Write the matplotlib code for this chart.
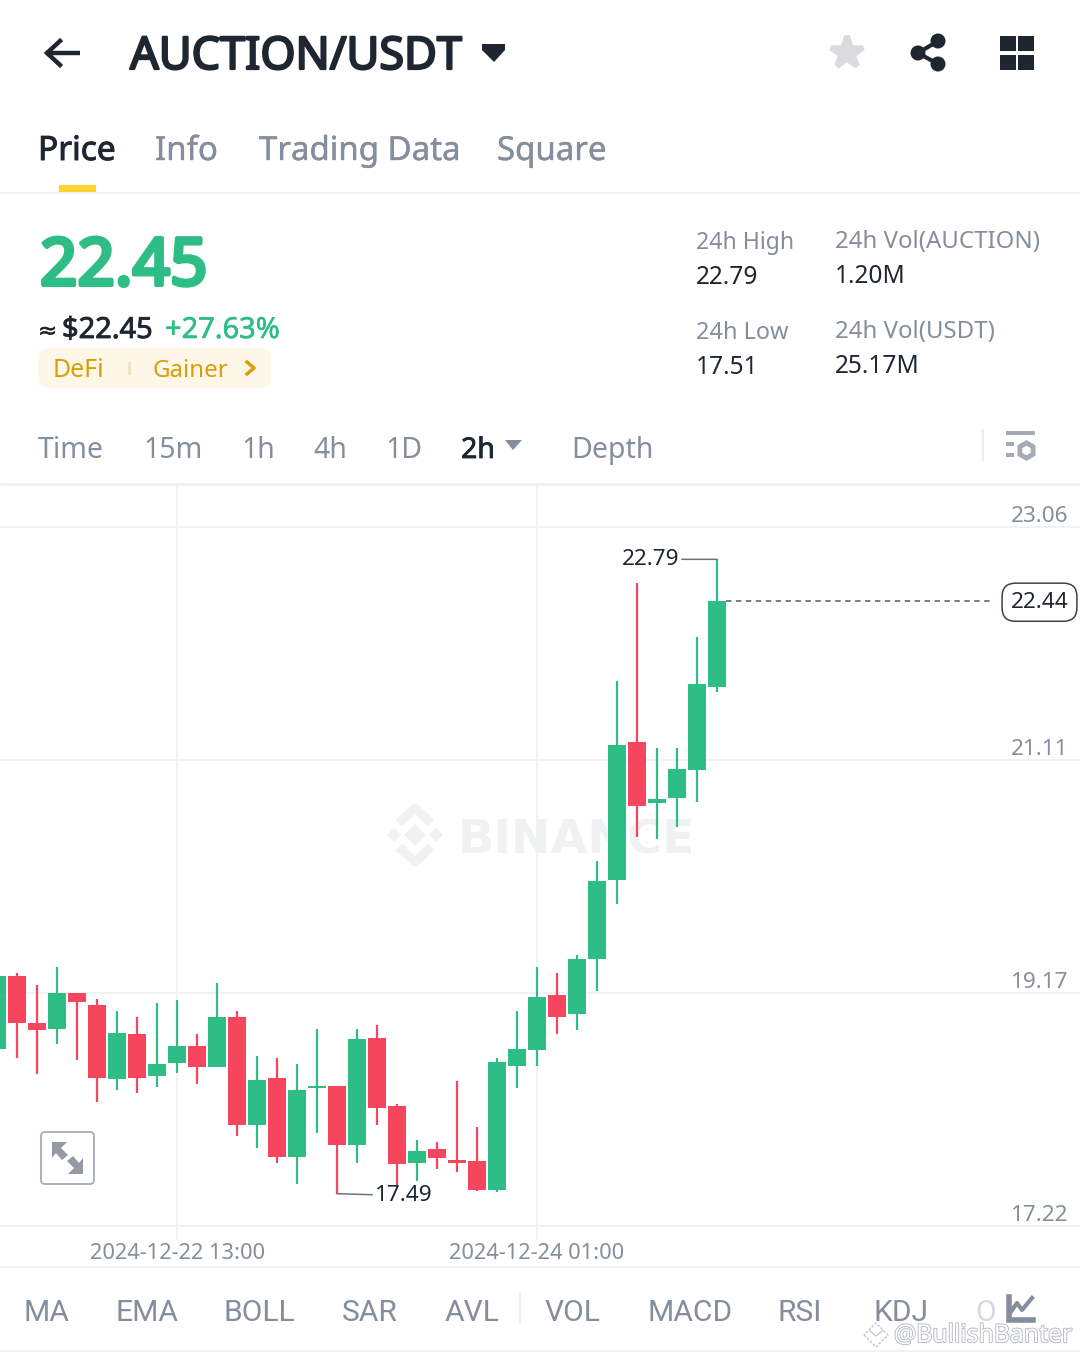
import matplotlib
matplotlib.use('Agg')
import matplotlib.pyplot as plt
import matplotlib.patheffects as pe
from matplotlib.patches import FancyBboxPatch, Rectangle, Circle, Polygon

plt.rcParams['font.family'] = ['Noto Sans', 'DejaVu Sans']

# ---- candle data ----
opens = [18.70, 19.31, 18.92, 18.87, 19.17, 19.07, 18.45, 18.82, 18.47, 18.58,
         18.72, 18.55, 18.97, 18.06, 18.46, 17.80, 18.37, 18.39, 17.90, 18.79,
         18.22, 17.75, 17.86, 17.77, 17.76, 17.52, 18.56, 18.69, 19.15, 18.99,
         19.45, 20.11, 21.26, 20.75, 20.80, 21.03, 21.72]
highs = [19.31, 19.33, 19.23, 19.38, 19.17, 19.12, 19.02, 18.97, 19.08, 19.11,
         18.82, 19.25, 19.02, 18.64, 18.62, 18.57, 18.87, 18.39, 18.87, 18.90,
         18.24, 17.94, 17.92, 18.43, 18.05, 18.62, 19.02, 19.38, 19.33, 19.48,
         20.27, 21.77, 22.59, 21.21, 21.21, 22.14, 22.79]
lows = [18.70, 18.62, 18.49, 18.74, 18.61, 18.26, 18.36, 18.33, 18.38, 18.50,
        18.41, 18.55, 17.97, 17.87, 17.75, 17.57, 18.00, 17.49, 17.75, 18.06,
        17.55, 17.60, 17.70, 17.67, 17.51, 17.50, 18.37, 18.56, 18.82, 18.86,
        19.18, 19.91, 20.47, 20.45, 20.55, 20.76, 21.68]
closes = [19.31, 18.92, 18.86, 19.17, 19.09, 18.46, 18.83, 18.46, 18.57, 18.72,
          18.55, 18.97, 18.06, 18.44, 17.80, 18.36, 18.39, 17.90, 18.78, 18.21,
          17.74, 17.85, 17.79, 17.75, 17.52, 18.59, 18.70, 19.13, 18.97, 19.45,
          20.10, 21.24, 20.73, 20.79, 21.04, 21.75, 22.44]

price_ticks = [23.06, 21.11, 19.17, 17.22]
time_tick_idx = [9, 27]
time_labels = ['2024-12-22 13:00', '2024-12-24 01:00']
last_price = 22.44
high_label = 22.79
low_label = 17.49

top_tabs = [('Price', 38), ('Info', 155), ('Trading Data', 259), ('Square', 497)]
time_tabs = [('Time', 38), ('15m', 143), ('1h', 241), ('4h', 313), ('1D', 385), ('Depth', 571)]
indicators = [('MA', 24), ('EMA', 115), ('BOLL', 223), ('SAR', 342), ('AVL', 445),
              ('VOL', 545), ('MACD', 648), ('RSI', 777), ('KDJ', 874)]

GREEN = '#2EBD85'
RED = '#F6465D'
DARK = '#1E2632'
GRAY = '#848E9C'
LINE = '#F1F2F3'

W, H = 1080, 1356
fig = plt.figure(figsize=(W / 100, H / 100), dpi=100, facecolor='white')

# pixel-coordinate layer for the app chrome
bg = fig.add_axes([0, 0, 1, 1], zorder=0)
bg.set_xlim(0, W)
bg.set_ylim(H, 0)
bg.axis('off')


def put(x, y, s, size, color=DARK, heavy=0, ha='left', family=None, **kw):
    # Noto Sans comes in one weight here, so heavier text gets a stroke of its own colour
    if family is not None:
        kw['family'] = family
    if heavy:
        kw['path_effects'] = [pe.withStroke(linewidth=heavy, foreground=color)]
    return bg.text(x, y, s, fontsize=size * 0.72, color=color, ha=ha, va='baseline', **kw)


def hline(y, x0=0, x1=W, lw=2, color=LINE):
    bg.plot([x0, x1], [y, y], color=color, lw=lw * 0.72, solid_capstyle='butt')


# header
bg.plot([46, 80], [53, 53], color=DARK, lw=3.2, solid_capstyle='butt')
bg.plot([60, 47, 60], [41, 53, 65], color=DARK, lw=3.2, solid_joinstyle='miter')
put(130, 69, 'AUCTION/USDT', 45, heavy=1.6)
bg.add_patch(Polygon([[482, 44], [505, 44], [505, 50], [494, 62], [482, 50]], color=DARK, lw=0))
bg.plot([847], [53], marker='*', ms=24, color='#D8DBE0', mec='#D8DBE0', mew=4, mfc='#D8DBE0')
share = [(938, 41), (918, 53), (938, 64)]
bg.plot([p[0] for p in share], [p[1] for p in share], color=DARK, lw=3)
for cx, cy in share:
    bg.add_patch(Circle((cx, cy), 7.5, color=DARK, lw=0))
for x0, y0 in [(1000, 36), (1018, 36), (1000, 55), (1018, 55)]:
    bg.add_patch(Rectangle((x0, y0), 15.5, 14.5, color=DARK, lw=0))

# page tabs
for i, (name, x) in enumerate(top_tabs):
    if i == 0:
        put(x, 160, name, 33.5, heavy=0.7)
    else:
        put(x, 160, name, 33, color=GRAY, heavy=0.3)
bg.add_patch(Rectangle((59, 185), 37, 7, color='#FCD535', lw=0))
hline(193)

# price block
put(40, 285, '22.45', 65.5, color=GREEN, heavy=3)
put(38, 338, '≈', 23, heavy=0.3)
put(62, 338, '$22.45', 29, heavy=0.6)
put(165, 338, '+27.63%', 29, color=GREEN, heavy=0.4)
bg.add_patch(FancyBboxPatch((38, 348), 233, 40, boxstyle='round,pad=0,rounding_size=11', lw=0, fc='#FEF6E6'))
put(53, 377, 'DeFi', 25, color='#D89F0B')
put(153, 377, 'Gainer', 24, color='#D89F0B')
bg.plot([129, 129], [363, 373], color='#EFE3C2', lw=2)
bg.plot([247, 254, 247], [362, 368, 374], color='#D89F0B', lw=2.4)

# 24h stats
put(696, 249, '24h High', 23, color=GRAY)
put(696, 284, '22.79', 24.5)
put(696, 339, '24h Low', 23.5, color=GRAY)
put(696, 374, '17.51', 24.5)
put(835, 248, '24h Vol(AUCTION)', 24, color=GRAY)
put(835, 283, '1.20M', 24.5)
put(835, 338, '24h Vol(USDT)', 24, color=GRAY)
put(835, 373, '25.17M', 24.5)

# interval tabs
for name, x in time_tabs:
    put(x, 458, name, 28.5, color=GRAY)
put(461, 458, '2h', 28.5, heavy=0.6)
bg.add_patch(Polygon([[505, 440], [522, 440], [513, 450]], color=GRAY, lw=0))
bg.plot([983, 983], [430, 460], color='#ECEDEF', lw=1.5)
bg.add_patch(Rectangle((1006, 431), 29, 4, color='#A4ABB6', lw=0))
bg.add_patch(Rectangle((1006, 442), 8, 4, color='#A4ABB6', lw=0))
bg.add_patch(Rectangle((1006, 453), 8, 4, color='#A4ABB6', lw=0))
bg.plot([1026], [450], marker='h', ms=11, mfc='white', mec='#A4ABB6', mew=3.5)
hline(484, lw=3)

# faint exchange watermark behind the candles
for cx, cy, r in [(415, 835, 11), (394, 835, 7), (436, 835, 7)]:
    bg.add_patch(Polygon([[cx - r, cy], [cx, cy - r], [cx + r, cy], [cx, cy + r]], color='#F0F1F2', lw=0))
bg.plot([399, 415, 431], [823, 808, 823], color='#F0F1F2', lw=6.5, solid_capstyle='butt')
bg.plot([399, 415, 431], [847, 862, 847], color='#F0F1F2', lw=6.5, solid_capstyle='butt')
put(458, 853, 'BINANCE', 47.5, color='#F0F1F2', family='DejaVu Sans', fontweight='bold')

# bottom tabs
hline(1267, lw=2)
hline(1351, lw=2)
for name, x in indicators:
    put(x, 1321, name, 30, color=GRAY, family='Roboto')
put(975, 1321, 'O', 30, color='#D5D8DD', family='Roboto')
bg.plot([520, 520], [1293, 1323], color='#ECEDEF', lw=1.5)
bg.plot([1009, 1009, 1033], [1297, 1320, 1320], color=GRAY, lw=4, solid_joinstyle='miter')
bg.plot([1010, 1017, 1022, 1032], [1313, 1303, 1310, 1298], color=GRAY, lw=3)

# chart panel: price on y, candle index on x
ax = fig.add_axes([0, (H - 1240) / H, 1, (1240 - 485) / H], zorder=1)
ax.patch.set_alpha(0)
ax.set_xlim(0.15, 54.15)
ax.set_ylim(17.103, 23.411)
for side in ax.spines.values():
    side.set_visible(False)

ax.set_yticks(price_ticks)
ax.yaxis.tick_right()
ax.tick_params(axis='y', length=0, pad=-8.4, labelsize=16.2, labelcolor=GRAY)
for t in ax.get_yticklabels():
    t.set_ha('right')
    t.set_va('bottom')
ax.set_xticks(time_tick_idx)
ax.set_xticklabels(time_labels)
ax.tick_params(axis='x', length=0, pad=2, labelsize=15.7, labelcolor=GRAY)
ax.grid(True, color=LINE, lw=1.4)
ax.set_axisbelow(True)

for i in range(len(opens)):
    color = GREEN if closes[i] >= opens[i] else RED
    ax.vlines(i, lows[i], highs[i], color=color, lw=1.6, zorder=2)
    ax.bar(i, abs(closes[i] - opens[i]), bottom=min(opens[i], closes[i]), width=0.875, color=color, zorder=3)

# last price marker
last_idx = len(opens) - 1
ax.hlines(last_price, last_idx + 0.45, 49.7, color='#6B7380', lw=1.3, linestyles=(0, (3, 2.5)), zorder=2)
ax.annotate(f'{last_price:.2f}', xy=(0.9625, last_price), xycoords=('axes fraction', 'data'),
            xytext=(0, -1), textcoords='offset pixels',
            ha='center', va='center', fontsize=16.2, color=DARK, zorder=5,
            bbox=dict(boxstyle='round,pad=0.38,rounding_size=0.6', fc='white', ec='#3A4250', lw=1.1))

# high / low callouts
ax.annotate(f'{high_label:.2f}', xy=(last_idx, high_label), xytext=(-38, 0), textcoords='offset pixels',
            ha='right', va='center', fontsize=16.2, color=DARK, zorder=5,
            arrowprops=dict(arrowstyle='-', color='#6B7380', lw=1.1, shrinkA=0, shrinkB=0))
ax.annotate(f'{low_label:.2f}', xy=(17, low_label), xytext=(38, -2), textcoords='offset pixels',
            ha='left', va='center', fontsize=16.2, color=DARK, zorder=5,
            arrowprops=dict(arrowstyle='-', color='#6B7380', lw=1.1, shrinkA=0, shrinkB=0))

# expand button sits over the chart
top = fig.add_axes([0, 0, 1, 1], zorder=2)
top.set_xlim(0, W)
top.set_ylim(H, 0)
top.axis('off')
top.add_patch(FancyBboxPatch((41, 1132), 53, 52, boxstyle='round,pad=0,rounding_size=4',
                             fc='white', ec='#A6ACB8', lw=1.3))
top.add_patch(Polygon([[52, 1142], [67, 1142], [61, 1148], [68, 1155], [62, 1160], [56, 1153], [52, 1158]],
                      color='#929AA5', lw=0))
top.add_patch(Polygon([[83, 1174], [68, 1174], [74, 1168], [67, 1161], [73, 1156], [79, 1163], [83, 1158]],
                      color='#929AA5', lw=0))

# overlaid social watermark, white glyphs with a thin outline
top.text(894, 1342, '@BullishBanter', fontsize=17.8, color='white', ha='left', va='baseline',
         path_effects=[pe.withStroke(linewidth=1.3, foreground='#B5B9BF')])
top.plot([864, 876, 888, 876, 864], [1335, 1347, 1335, 1323, 1335], color='#C4C8CD', lw=1, ls=(0, (2, 1)))
top.plot([870, 876, 882], [1331, 1336, 1331], color='#C4C8CD', lw=1)

fig.savefig('out.png', dpi=100)
